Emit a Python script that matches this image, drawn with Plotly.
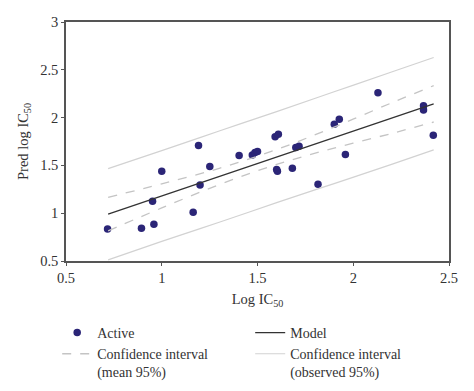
import plotly.graph_objects as go

# Observed vs predicted
log_ic50 = [0.717, 0.894, 0.959, 0.952, 1.000, 1.164, 1.192, 1.200, 1.251, 1.404,
            1.473, 1.487, 1.500, 1.592, 1.609, 1.600, 1.604, 1.682, 1.700, 1.717,
            1.816, 1.959, 2.418, 1.901, 1.927, 2.129, 2.367, 2.367]
pred_log_ic50 = [0.835, 0.842, 0.884, 1.125, 1.440, 1.010, 1.707, 1.296, 1.488, 1.603,
                 1.610, 1.634, 1.645, 1.800, 1.826, 1.456, 1.440, 1.470, 1.687, 1.700,
                 1.303, 1.613, 1.816, 1.930, 1.983, 2.259, 2.123, 2.080]

# Model line and confidence bands
band_x = [0.72, 1.0, 1.3, 1.6, 1.9, 2.2, 2.42]
model_y = [0.991, 1.181, 1.384, 1.588, 1.791, 1.994, 2.144]
mean_upper = [1.166, 1.307, 1.469, 1.666, 1.901, 2.154, 2.334]
mean_lower = [0.816, 1.055, 1.299, 1.510, 1.681, 1.834, 1.954]
obs_upper = [1.466, 1.655, 1.860, 2.063, 2.270, 2.477, 2.629]
obs_lower = [0.512, 0.705, 0.905, 1.110, 1.310, 1.510, 1.662]

x_ticks = [0.5, 1, 1.5, 2, 2.5]
y_ticks = [0.5, 1, 1.5, 2, 2.5, 3]

FONT = "Liberation Serif"
dash_col = "#c4c4c4"
obs_col = "#d2d2d2"

fig = go.Figure()
fig.add_trace(go.Scatter(x=log_ic50, y=pred_log_ic50, mode="markers", name="Active",
                         marker=dict(color="#2b2577", size=7.5), legendrank=1))
fig.add_trace(go.Scatter(x=band_x, y=model_y, mode="lines", name="Model",
                         line=dict(color="#333333", width=1.3), legendrank=2))
fig.add_trace(go.Scatter(x=band_x, y=mean_upper, mode="lines",
                         name="Confidence interval<br>(mean 95%)",
                         line=dict(color=dash_col, width=1.3, dash="dash", shape="spline"),
                         legendrank=3))
fig.add_trace(go.Scatter(x=band_x, y=mean_lower, mode="lines", showlegend=False,
                         line=dict(color=dash_col, width=1.3, dash="dash", shape="spline")))
fig.add_trace(go.Scatter(x=band_x, y=obs_upper, mode="lines",
                         name="Confidence interval<br>(observed 95%)",
                         line=dict(color=obs_col, width=1.2, shape="spline"), legendrank=4))
fig.add_trace(go.Scatter(x=band_x, y=obs_lower, mode="lines", showlegend=False,
                         line=dict(color=obs_col, width=1.2, shape="spline")))

axis_common = dict(showline=True, linecolor="#555555", linewidth=1.5, mirror=True,
                   ticks="outside", ticklen=3, tickcolor="#555555", showgrid=False,
                   zeroline=False, tickfont=dict(family=FONT, size=14.5, color="#333333"))

# The page body adds an 8px margin, so the figure is 8px smaller than the window
fig.update_layout(
    width=466, height=383,
    margin=dict(l=58, r=25, t=14, b=130, autoexpand=False),
    paper_bgcolor="white", plot_bgcolor="white",
    font=dict(family=FONT, size=14.5, color="#333333"),
    xaxis=dict(range=[0.5, 2.5], tickvals=x_ticks,
               title=dict(text="Log IC<sub>50</sub>", font=dict(family=FONT, size=14.5), standoff=9),
               **axis_common),
    yaxis=dict(range=[0.5, 3], tickvals=y_ticks,
               title=dict(text="Pred log IC<sub>50</sub>", font=dict(family=FONT, size=14.5), standoff=8),
               **axis_common),
    legend=dict(orientation="h", x=-0.023, xanchor="left", y=-0.234, yanchor="top",
                entrywidth=148, entrywidthmode="pixels", valign="top",
                font=dict(family=FONT, size=14, color="#333333"),
                bgcolor="rgba(0,0,0,0)"),
    showlegend=True,
)

fig.write_html("out.html")
